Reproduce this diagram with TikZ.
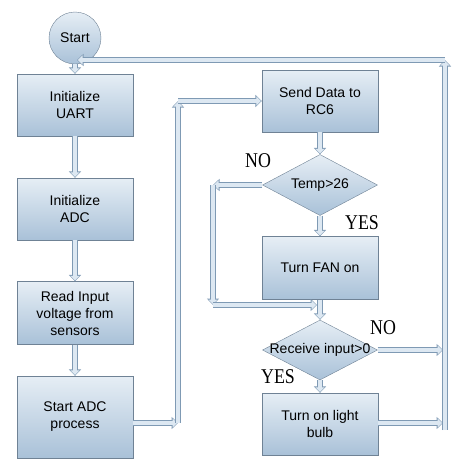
\documentclass[tikz,border=0pt]{standalone}
\usepackage{fontspec}
\setmainfont{Liberation Sans}
\newfontfamily\etiqfont[FakeStretch=0.85]{Liberation Serif}
\usetikzlibrary{shapes.geometric,arrows.meta}

\definecolor{bordure}{HTML}{6F8295}
\definecolor{haut}{HTML}{E6EEF5}
\definecolor{bas}{HTML}{A9C1D8}
\definecolor{trait}{HTML}{7F9AB4}
\definecolor{fond}{HTML}{DDE8F2}

\tikzset{
    texte/.style={font=\fontsize{14}{17}\selectfont},
    boite/.style={rectangle, draw=bordure, top color=haut, bottom color=bas,
        minimum width=116pt, minimum height=62pt, align=center, inner sep=2pt, texte},
    losange/.style={diamond, draw=bordure, top color=haut, bottom color=bas,
        minimum width=115pt, minimum height=61pt, aspect=1.9, inner sep=0pt, texte},
    etiq/.style={font=\etiqfont\fontsize{21}{21}\selectfont, inner sep=0pt},
    liaison/.style={preaction={draw=trait, line width=5.2pt, -{Triangle[length=6.5pt,width=12pt]}},
        draw=fond, line width=3.2pt, -{Triangle[length=4.6pt,width=8.8pt,sep=0.9pt]}}
}

\begin{document}
\begin{tikzpicture}[x=1pt,y=-1pt]
    \useasboundingbox (0,0) rectangle (474,461);

    % Colonne de gauche
    \node[circle, draw=bordure, top color=haut, bottom color=bas, minimum size=52pt, inner sep=0pt, texte] (debut) at (75,38) {Start};
    \node[boite] (uart) at (75,105) {Initialize\\UART};
    \node[boite] (adc) at (75,209) {Initialize\\ADC};
    \node[boite, minimum height=63pt] (lect) at (75,313) {Read Input\\voltage from\\sensors};
    \node[boite, minimum height=82pt] (sadc) at (75,417) {Start ADC\\process};

    % Colonne de droite
    \node[boite] (envoi) at (320,101) {Send Data to\\RC6};
    \node[losange] (temp) at (320,185) {Temp>26};
    \node[boite, minimum height=63pt] (fan) at (320,268) {Turn FAN on};
    \node[losange, minimum height=60pt, label={[texte]center:Receive input>0}] (recep) at (320,350) {};
    \node[boite] (ampoule) at (320,424) {Turn on light\\bulb};

    % Etiquettes
    \node[etiq] (nonA) at (258,161) {NO};
    \node[etiq] (ouiA) at (362,223) {YES};
    \node[etiq] (nonB) at (383,328) {NO};
    \node[etiq] (ouiB) at (278,377) {YES};

    % Points de passage
    \coordinate (c1) at (178,423);
    \coordinate (c2) at (178,101);
    \coordinate (n1) at (213,185);
    \coordinate (n2) at (213,305);
    \coordinate (n3) at (317,305);
    \coordinate (r1) at (443,350);
    \coordinate (r2) at (443,423);
    \coordinate (rb) at (445,430);
    \coordinate (rh) at (445,60);
    \coordinate (retour) at (77,60);

    % Fleches verticales
    \draw[liaison] (debut) -- (uart);
    \foreach \a/\b in {uart/adc, adc/lect, lect/sadc, envoi/temp, temp/fan, fan/recep, recep/ampoule} {
        \draw[liaison] (\a) -- (\b);
    }

    % Liaison vers Send Data
    \draw[liaison] (sadc.east |- c1) -- (c1);
    \draw[liaison] (c1) -- (c2);
    \draw[liaison] (c2) -- (envoi.west);

    % Branche NO de Temp>26
    \draw[liaison] (temp.west) -- (n1);
    \draw[liaison] (n1) -- (n2);
    \draw[liaison] (n2) -- (n3);

    % Retour vers Start
    \draw[liaison] (recep.east) -- (r1);
    \draw[liaison] (ampoule.east |- r2) -- (r2);
    \draw[liaison] (rb) -- (rh);
    \draw[liaison] (rh) -- (retour);
\end{tikzpicture}
\end{document}
